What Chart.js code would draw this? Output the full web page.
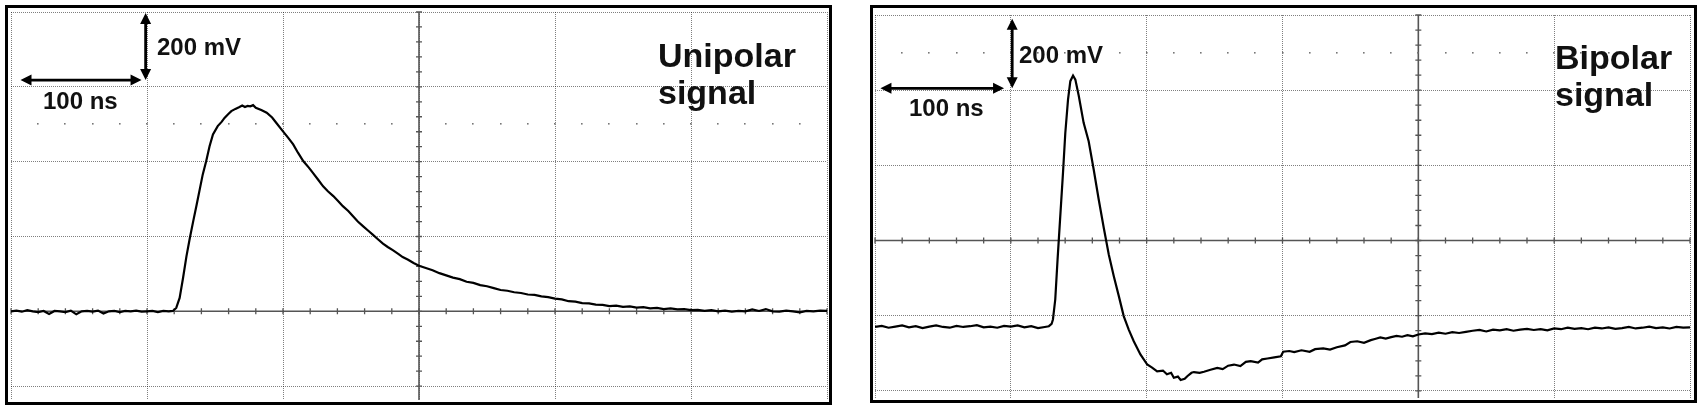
<!DOCTYPE html>
<html>
<head>
<meta charset="utf-8">
<script src="https://cdn.jsdelivr.net/npm/chart.js"></script>
<style>
    body { margin: 0; background: #fff; width: 1704px; height: 412px; overflow: hidden; position: relative; font-family: "Liberation Sans", Arial, sans-serif; }
    .wrap { position: absolute; top: 0; height: 412px; }
    .frame { position: absolute; border: 3px solid #000; box-sizing: border-box; pointer-events: none; }
    .lbl { position: absolute; font-weight: bold; color: #111; white-space: nowrap; }
    .small { font-size: 24px; line-height: 24px; }
    .big { font-size: 34px; line-height: 37px; }
</style>
</head>
<body>
<div class="wrap" style="left:0;width:840px"><canvas id="unipolar"></canvas></div>
<div class="wrap" style="left:860px;width:844px"><canvas id="bipolar"></canvas></div>
<div class="frame" style="left:5px;top:5px;width:827px;height:400px"></div>
<div class="frame" style="left:870px;top:5px;width:827px;height:398px"></div>

<div class="lbl small" style="left:157px;top:35px">200 mV</div>
<div class="lbl small" style="left:43px;top:89px">100 ns</div>
<div class="lbl big" style="left:658px;top:37px">Unipolar<br>signal</div>

<div class="lbl small" style="left:1019px;top:43px">200 mV</div>
<div class="lbl small" style="left:909px;top:96px">100 ns</div>
<div class="lbl big" style="left:1555px;top:39px">Bipolar<br>signal</div>

<script>
// Unipolar trace (time in ns, amplitude in mV, 0 = centre of the screen)
const unipolarTimes = [
    -300, -296, -292, -288, -284, -280, -276, -272, -268, -264, -260, -256, -252, -248, -244, -240,
    -236, -232, -228, -224, -220, -216, -212, -208, -204, -200, -196, -192, -188, -184, -181,
    -178.5, -176, -173.5, -171, -168.5, -166, -163.5, -161, -159, -156.5, -154, -151.5, -148, -145,
    -143, -140, -138, -135, -132, -130, -128, -126, -124, -122, -120, -116, -112, -108, -105, -100,
    -96, -92.5, -89, -85, -81, -78, -74, -70.5, -67, -63, -59, -56, -52, -48.5, -45, -41, -37.5, -34,
    -30, -26.5, -23, -19, -15, -12, -8, -4, 0,
    5, 10, 15, 20, 25, 30, 35, 40, 45, 50, 55, 60, 65, 70, 75, 80, 85, 90, 95, 100, 105, 110, 115,
    120, 125, 130, 135, 140, 145, 150, 155, 160, 165, 170, 175, 180, 185, 190, 195, 200, 205, 210,
    215, 220, 225, 230, 235, 240, 245, 250, 255, 260, 265, 270, 275, 280, 285, 290, 295, 300
];
const unipolarVolts = [
    0, 2, -1, 3, 0, -2, 1, -7, 1, 0, -2, 2, -8, 0, 1, -1,
    2, -6, 0, 1, -2, 1, 0, 2, -1, 0, 1, -2, 1, 0, 1,
    9, 36, 89, 147, 196, 241, 285, 330, 366, 401, 441, 473, 495, 507,
    517, 528, 535, 541, 546, 550, 546, 549, 548, 551, 544, 538, 531, 518, 504, 481,
    463, 446, 424, 401, 384, 370, 351, 334, 321, 308, 293, 281, 268, 254, 240, 227, 216, 205,
    192, 181, 172, 163, 153, 145, 138, 129, 122,
    116, 110, 102, 96, 90, 86, 79, 76, 70, 67, 62, 57, 55, 51, 49, 45, 44, 40, 38, 34, 32, 27, 26,
    22, 21, 18, 17, 14, 15, 12, 13, 10, 11, 8, 9, 6, 8, 5, 6, 3, 4, 1,
    3, 0, 2, -1, 1, 0, 5, 1, 6, 0, -1, 2, 0, -3, 1, 0, 2, 1
];

// Bipolar trace
const bipolarTimes = [
    -400, -395, -390, -385, -380, -375, -370, -365, -360, -355, -350, -345, -340, -335, -330, -325,
    -320, -315, -310, -305, -300, -295, -290, -285, -280, -275, -272,
    -270, -269, -267.3, -265.6, -263.6, -261.6, -259.9, -257.9, -256.2, -254.2, -252.5, -250,
    -246.4, -242.7, -239, -235.3, -231.6, -227.9, -224.2, -220.5, -216.9, -213.2, -209.5, -204.6,
    -199.6, -196, -192.3, -188, -185.1, -182, -180, -177, -175, -172, -170.1, -167, -165.2, -161,
    -157.8, -153, -148, -144, -140, -135.7, -131, -127, -123.4, -118, -115, -111.1, -106, -101.2,
    -99.5, -95, -91.4, -86, -80, -76, -70, -65, -60, -54, -50, -45, -40, -35, -32, -28, -24, -20,
    -16, -12, -8, -4, 0, 5, 10, 15, 20, 25, 30, 35, 40, 45, 50, 55, 60, 65, 70, 75, 80, 85, 90, 95,
    100, 105, 110, 115, 120, 125, 130, 135, 140, 145, 150, 155, 160, 165, 170, 175, 180, 185, 190,
    195, 200
];
const bipolarVolts = [
    -230, -227, -232, -229, -226, -231, -228, -233, -229, -226, -230, -232, -227, -230, -228, -225,
    -231, -229, -232, -227, -229, -226, -231, -228, -233, -230, -228,
    -222, -210, -157, -51, 65, 180, 286, 375, 424, 439, 428, 385,
    313, 264, 189, 109, 34, -37, -95, -148, -201, -237, -268, -303,
    -330, -338, -348, -346, -356, -352, -365, -362, -371, -368, -361, -352, -350, -352,
    -349, -344, -339, -342, -333, -330, -334, -323, -321, -325, -316, -314, -311, -308,
    -296, -294, -297, -292, -296, -289, -287, -290, -284, -279, -270, -268, -272, -265, -262, -258, -261, -257,
    -254, -256, -252, -255, -250, -247, -249, -245, -248, -244, -246, -243, -240, -238, -242, -237, -239, -236, -240, -237, -235, -238, -236, -239,
    -234, -236, -232, -235, -233, -236, -232, -234, -231, -235, -233, -230, -234, -232, -229, -233, -231, -234, -230,
    -232, -231
];

// Screen settings: 100 ns and 200 mV per division
const nsPerDiv = 100;
const mvPerDiv = 200;
const nsMinor = 20;
const mvMinor = 40;

// Grid lines only on whole divisions (Chart.js would otherwise stretch the step to fit min/max)
function divisionTicks(step) {
    return scale => {
        const ticks = [];
        for (let v = Math.ceil(scale.min / step) * step; v <= scale.max; v += step) {
            ticks.push({ value: v });
        }
        scale.ticks = ticks;
    };
}

// Draws the centre cross with its small ticks, the dotted row and the scale arrows
const scopeDecor = {
    id: 'scopeDecor',
    beforeDatasetsDraw(chart, args, opts) {
        const { ctx, chartArea: a, scales: { x, y } } = chart;
        const x0 = x.getPixelForValue(0);
        const y0 = y.getPixelForValue(0);
        ctx.save();
        ctx.strokeStyle = '#555';
        ctx.lineWidth = 1.6;
        ctx.beginPath();
        ctx.moveTo(a.left, y0); ctx.lineTo(a.right, y0);
        ctx.moveTo(x0, a.top); ctx.lineTo(x0, a.bottom);
        ctx.stroke();

        ctx.lineWidth = 1.3;
        ctx.beginPath();
        for (let v = x.min; v <= x.max; v += nsMinor) {
            const px = x.getPixelForValue(v);
            ctx.moveTo(px, y0 - 3); ctx.lineTo(px, y0 + 3);
        }
        for (let v = Math.ceil(y.min / mvMinor) * mvMinor; v <= y.max; v += mvMinor) {
            const py = y.getPixelForValue(v);
            ctx.moveTo(x0 - 3, py); ctx.lineTo(x0 + 3, py);
        }
        ctx.stroke();

        // row of dots
        ctx.fillStyle = '#777';
        const py = y.getPixelForValue(opts.dotRow);
        for (let v = x.min + nsMinor; v < x.max; v += nsMinor) {
            const px = x.getPixelForValue(v);
            ctx.fillRect(Math.round(px) - 1, Math.round(py) - 1, 1.6, 1.6);
        }
        ctx.restore();
    },
    afterDatasetsDraw(chart, args, opts) {
        const { ctx, scales: { x, y } } = chart;
        ctx.save();
        ctx.strokeStyle = '#000';
        ctx.fillStyle = '#000';
        ctx.lineWidth = 2.8;
        opts.arrows.forEach(ar => {
            const x1 = x.getPixelForValue(ar.from[0]), y1 = y.getPixelForValue(ar.from[1]);
            const x2 = x.getPixelForValue(ar.to[0]), y2 = y.getPixelForValue(ar.to[1]);
            const ang = Math.atan2(y2 - y1, x2 - x1);
            const head = 11, half = 5.5;
            ctx.beginPath();
            ctx.moveTo(x1 + Math.cos(ang) * head * 0.8, y1 + Math.sin(ang) * head * 0.8);
            ctx.lineTo(x2 - Math.cos(ang) * head * 0.8, y2 - Math.sin(ang) * head * 0.8);
            ctx.stroke();
            [[x1, y1, ang + Math.PI], [x2, y2, ang]].forEach(([tx, ty, d]) => {
                ctx.beginPath();
                ctx.moveTo(tx, ty);
                ctx.lineTo(tx - Math.cos(d) * head - Math.sin(d) * half, ty - Math.sin(d) * head + Math.cos(d) * half);
                ctx.lineTo(tx - Math.cos(d) * head + Math.sin(d) * half, ty - Math.sin(d) * head - Math.cos(d) * half);
                ctx.closePath();
                ctx.fill();
            });
        });
        ctx.restore();
    }
};

function makeScope(canvasId, times, volts, xRange, yRange, padding, decor) {
    const ctx = document.getElementById(canvasId).getContext('2d');
    return new Chart(ctx, {
        type: 'line',
        data: {
            datasets: [{
                data: times.map((t, i) => ({ x: t, y: volts[i] })),
                borderColor: '#000',
                borderWidth: 2.2,
                pointRadius: 0,
                tension: 0
            }]
        },
        options: {
            responsive: true,
            maintainAspectRatio: false,
            animation: false,
            layout: { padding: padding },
            plugins: {
                legend: { display: false },
                tooltip: { enabled: false },
                scopeDecor: decor
            },
            scales: {
                x: {
                    type: 'linear',
                    min: xRange[0],
                    max: xRange[1],
                    afterBuildTicks: divisionTicks(nsPerDiv),
                    ticks: { display: false },
                    grid: { color: 'rgba(0,0,0,0.5)', lineWidth: 1, drawTicks: false },
                    border: { display: false, dash: [1, 1] }
                },
                y: {
                    min: yRange[0],
                    max: yRange[1],
                    afterBuildTicks: divisionTicks(mvPerDiv),
                    ticks: { display: false },
                    grid: { color: 'rgba(0,0,0,0.5)', lineWidth: 1, drawTicks: false },
                    border: { display: false, dash: [1, 1] }
                }
            }
        },
        plugins: [scopeDecor]
    });
}

makeScope('unipolar', unipolarTimes, unipolarVolts, [-300, 300], [-237, 800],
    { left: 11, top: 12, right: 13, bottom: 12 },
    {
        dotRow: 500,
        arrows: [
            { from: [-293, 618], to: [-204, 618] },
            { from: [-201, 797], to: [-201, 618] }
        ]
    });

makeScope('bipolar', bipolarTimes, bipolarVolts, [-400, 200], [-419, 600],
    { left: 15, top: 15, right: 14, bottom: 14 },
    {
        dotRow: 500,
        arrows: [
            { from: [-396, 405], to: [-305, 405] },
            { from: [-299, 590], to: [-299, 405] }
        ]
    });
</script>
</body>
</html>
